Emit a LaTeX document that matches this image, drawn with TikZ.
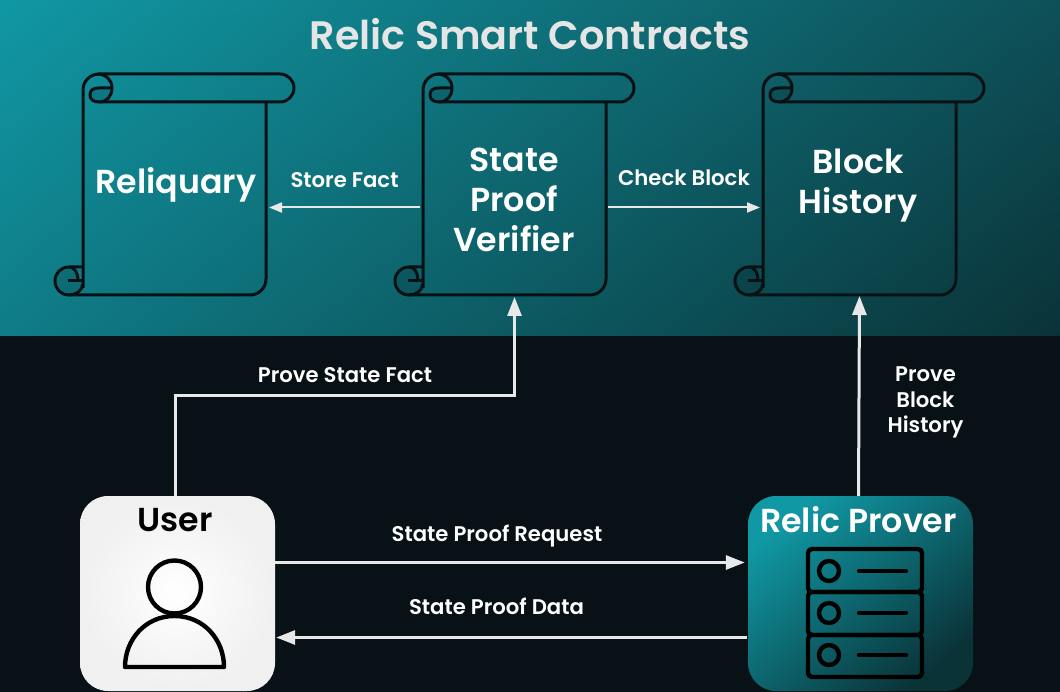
\documentclass[tikz,border=0pt]{standalone}
\usepackage{fontspec}
\setmainfont{Poppins}[UprightFont=* Medium,BoldFont=* SemiBold]
\usetikzlibrary{arrows.meta,calc,shadings}
\definecolor{darkbg}{HTML}{071116}
\definecolor{wire}{HTML}{E8E8E8}
\definecolor{ink}{HTML}{0A1115}
\definecolor{tealA}{HTML}{1098A4}
\definecolor{tealUR}{HTML}{0E5058}
\definecolor{tealLL}{HTML}{0F7C87}
\definecolor{tealC}{HTML}{0A3338}
\tikzset{
  x=1pt,y=-1pt,
  scrollline/.style={draw=ink,line width=3pt,line join=round},
  curlfill/.style={fill=black,fill opacity=0.13},
  bodybox/.style={draw=none,minimum height=221pt,inner sep=0pt,outer sep=0pt},
  title/.style={text=white,font=\bfseries\fontsize{33.2}{40}\selectfont,align=center},
  edgelabel/.style={text=white,font=\bfseries\fontsize{21.2}{25.5}\selectfont,align=center},
  thinwire/.style={draw=wire,line width=2pt,-{Triangle[length=13pt,width=10pt]}},
  thickwire/.style={draw=wire,line width=3pt,-{Triangle[length=19pt,width=14pt]}},
  iconline/.style={draw=black,line width=4.4pt,line cap=round,line join=round},
}
% #1 left x, #2 body width
\newcommand{\scrollshape}[2]{%
  \begin{scope}[xshift=#1pt]
    \fill[curlfill] (28,88) -- (16,88) .. controls (9,88) and (7,91) .. (7,95)
       .. controls (7,99) and (10,102) .. (16,102) .. controls (24,102) and (29,96) .. (29,88) -- cycle;
    \fill[curlfill] (0,288) .. controls (-2,293) and (-8,295) .. (-14,295)
       .. controls (-22,295) and (-28,289) .. (-28,281)
       .. controls (-28,273) and (-22,267) .. (-14,267)
       .. controls (-8,267) and (-5,273) .. (-5,281) -- (0,281) -- cycle;
    \draw[scrollline] (0,288) -- (0,90) arc[start angle=180,end angle=270,radius=16]
       -- (#2+14,74) arc[start angle=-90,end angle=90,radius=14]
       -- (16,102) .. controls (10,102) and (7,99) .. (7,95)
       .. controls (7,91) and (9,88) .. (16,88) -- (29,88);
    \draw[scrollline] (14,74) .. controls (23,74) and (29,80) .. (29,88) .. controls (29,96) and (24,102) .. (16,102);
    \draw[scrollline] (#2,102) -- (#2,279) arc[start angle=0,end angle=90,radius=16] -- (-14,295)
       .. controls (-22,295) and (-28,289) .. (-28,281)
       .. controls (-28,273) and (-22,267) .. (-14,267) -- (0,267);
    \draw[scrollline] (-14,267) .. controls (-8,267) and (-5,273) .. (-5,281);
    \draw[scrollline] (-15,281) -- (0,281);
    \draw[scrollline] (0,284) .. controls (-1,291) and (-7,295) .. (-14,295);
  \end{scope}}
\begin{document}
\begin{tikzpicture}
\useasboundingbox (0,0) rectangle (1060,692);
\fill[darkbg] (0,0) rectangle (1060,692);
\shade[upper left=tealA,upper right=tealUR,lower left=tealLL,lower right=tealC] (0,0) rectangle (1060,336);

\node[text=white!90!black,font=\bfseries\fontsize{39.7}{44}\selectfont] (heading) at (530,34) {Relic Smart Contracts};

\scrollshape{83}{183}
\scrollshape{423}{183}
\scrollshape{763}{193}

\node[bodybox,minimum width=183pt] (reliquary) at (174.5,184.5) {};
\node[bodybox,minimum width=183pt] (verifier) at (514.5,184.5) {};
\node[bodybox,minimum width=193pt] (history) at (859.5,184.5) {};

\node[title] (reliquaryT) at (176,184.5) {Reliquary};
\node[title] (verifierT) at (514,199.5) {State\\Proof\\Verifier};
\node[title] (historyT) at (858,185.5) {Block\\History};

\node[minimum width=195pt,minimum height=195pt,inner sep=0pt,rounded corners=28pt,
      shade,shading=radial,inner color=white,outer color=white!94!black] (user) at (177.5,593.5) {};
\node[minimum width=225pt,minimum height=195pt,inner sep=0pt,rounded corners=28pt,
      shade,top color=tealA,bottom color=tealC,shading angle=40] (prover) at (860.5,593.5) {};

\node[text=black,font=\bfseries\fontsize{33.2}{38}\selectfont] (userT) at (175,520) {User};
\node[title] (proverT) at (858.5,520) {Relic Prover};

% user icon
\draw[iconline] (174.5,587) circle[radius=26.5];
\draw[iconline] (125,667) .. controls (125,640) and (145,616) .. (174.5,616)
   .. controls (204,616) and (224,640) .. (224,667) -- cycle;

% server icon
\foreach \ya/\yb in {549/592,592/635,635/677}{
  \draw[iconline,rounded corners=4pt] (808,\ya) rectangle (922,\yb);
}
\foreach \yc in {571,613,655}{
  \draw[iconline] (829,\yc) circle[radius=10];
  \draw[iconline] (859,\yc) -- (906,\yc);
}

% connectors
\draw[thinwire] ([yshift=-23pt,xshift=-3pt]verifier.west) -- ([yshift=-23pt,xshift=3pt]reliquary.east);
\draw[thinwire] ([yshift=-23pt,xshift=2pt]verifier.east) -- ([yshift=-23pt,xshift=-3pt]history.west);
\draw[thickwire] (user.north -| userT.north) -- ++(0,-100) -| ([yshift=-2pt]verifier.south);
\draw[thickwire] (prover.north -| proverT.north) -- ([yshift=-1pt]history.south);
\draw[thickwire] ([yshift=31pt]user.east) -- ([yshift=31pt,xshift=-3pt]prover.west);
\draw[thickwire] ([yshift=-44pt,xshift=-1pt]prover.west) -- ([yshift=-44pt,xshift=1pt]user.east);

% labels
\node[edgelabel] (l1) at (344.5,180) {Store Fact};
\node[edgelabel] (l2) at (684,178) {Check Block};
\node[edgelabel] (l3) at (345,375) {Prove State Fact};
\node[edgelabel] (l4) at (925.5,402.5) {Prove\\Block\\History};
\node[edgelabel] (l5) at (497,536) {State Proof Request};
\node[edgelabel] (l6) at (496.5,606.5) {State Proof Data};
\end{tikzpicture}
\end{document}
